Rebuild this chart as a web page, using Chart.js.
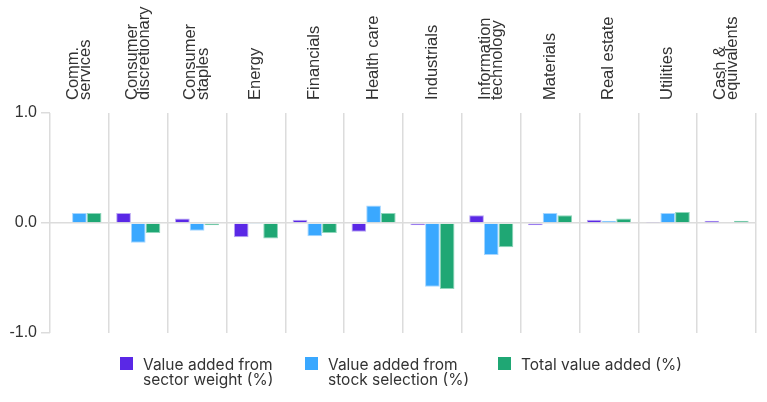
<!DOCTYPE html>
<html>
<head>
<meta charset="utf-8">
<script src="https://cdn.jsdelivr.net/npm/chart.js@4.4.1/dist/chart.umd.min.js"></script>
<style>
  body { margin: 0; background: #fff; }
  #wrap { position: relative; width: 767px; height: 402px; }
  .leg { position: absolute; top: 357px; font-family: Inter, sans-serif; font-size: 15.5px; line-height: 15px; color: #333; }
  .leg i { position: absolute; left: 0; top: 0; width: 13px; height: 13px; }
  .leg span { display: block; margin-left: 23px; white-space: nowrap; }
</style>
</head>
<body>
<div id="wrap">
  <canvas id="mycanvas" width="767" height="402"></canvas>
  <div class="leg" style="left:120px"><i style="background:#5a28e6"></i><span>Value added from<br>sector weight (%)</span></div>
  <div class="leg" style="left:305px"><i style="background:#3aa8ff"></i><span>Value added from<br>stock selection (%)</span></div>
  <div class="leg" style="left:498px"><i style="background:#1fa774"></i><span>Total value added (%)</span></div>
</div>
<script>
var sectors = [
    ['Comm.', 'services'], ['Consumer', 'discretionary'], ['Consumer', 'staples'], 'Energy',
    'Financials', 'Health care', 'Industrials', ['Information', 'technology'],
    'Materials', 'Real estate', 'Utilities', ['Cash &', 'equivalents']
];
var sectorWeight   = [0, 0.09, 0.04, -0.13, 0.03, -0.08, -0.02, 0.07, -0.02, 0.03, 0.01, 0.02];
var stockSelection = [0.09, -0.18, -0.07, -0.01, -0.12, 0.16, -0.58, -0.29, 0.09, 0.02, 0.09, 0];
var totalAdded     = [0.09, -0.09, -0.02, -0.14, -0.09, 0.09, -0.60, -0.22, 0.07, 0.04, 0.10, 0.02];
var yTicks = [-1, 0, 1];

// rotated category labels, centred on each tick (Chart.js shifts multi-line rotated labels)
var topLabels = {
    id: 'topLabels',
    afterDraw: function (chart) {
        var c = chart.ctx, sx = chart.scales.x, top = chart.chartArea.top;
        var lh = 12.5;
        c.save();
        c.font = '16.5px "Liberation Sans", Arial, sans-serif';
        c.fillStyle = '#333';
        c.textAlign = 'left';
        c.textBaseline = 'middle';
        chart.data.labels.forEach(function (lab, i) {
            var lines = Array.isArray(lab) ? lab : [lab];
            c.save();
            c.translate(sx.getPixelForTick(i), top - 13);
            c.rotate(-Math.PI / 2);
            lines.forEach(function (t, j) {
                c.fillText(t, 0, (j - (lines.length - 1) / 2) * lh);
            });
            c.restore();
        });
        c.restore();
    }
};

var chartdata = {
    labels: sectors,
    datasets: [{
        label: 'Value added from sector weight (%)',
        backgroundColor: '#5a28e6',
        borderColor: '#b9a6f3',
        data: sectorWeight
    }, {
        label: 'Value added from stock selection (%)',
        backgroundColor: '#3aa8ff',
        borderColor: '#a6d6ff',
        data: stockSelection
    }, {
        label: 'Total value added (%)',
        backgroundColor: '#1fa774',
        borderColor: '#8fd6bb',
        data: totalAdded
    }]
};

var ctx = document.getElementById('mycanvas');
var barGraph = new Chart(ctx, {
    type: 'bar',
    data: chartdata,
    plugins: [topLabels],
    options: {
        responsive: false,
        animation: false,
        layout: { padding: { left: 0, right: 11, top: 0, bottom: 69 } },
        datasets: { bar: { categoryPercentage: 0.75, barPercentage: 1, borderWidth: 1 } },
        plugins: { legend: { display: false }, tooltip: { enabled: false } },
        scales: {
            x: {
                position: 'top',
                border: { display: false },
                grid: {
                    drawTicks: false,
                    color: function (c) { return c.index === sectors.length ? 'rgba(0,0,0,0)' : '#dcdcdc'; },
                    lineWidth: 1.5
                },
                ticks: { display: false },
                afterFit: function (s) { s.height = 113; }
            },
            y: {
                min: -1, max: 1,
                border: { display: false },
                afterBuildTicks: function (s) { s.ticks = yTicks.map(function (v) { return { value: v }; }); },
                grid: {
                    color: function (c) { return c.tick && c.tick.value === 0 ? '#dcdcdc' : 'rgba(0,0,0,0)'; },
                    tickColor: '#dcdcdc',
                    tickLength: 9,
                    lineWidth: 1.5
                },
                ticks: {
                    padding: 4, color: '#333',
                    font: { family: 'Liberation Sans, Arial', size: 16 },
                    callback: function (v) { return v.toFixed(1); }
                },
                afterFit: function (s) { s.width = 50; }
            }
        }
    }
});
</script>
</body>
</html>
